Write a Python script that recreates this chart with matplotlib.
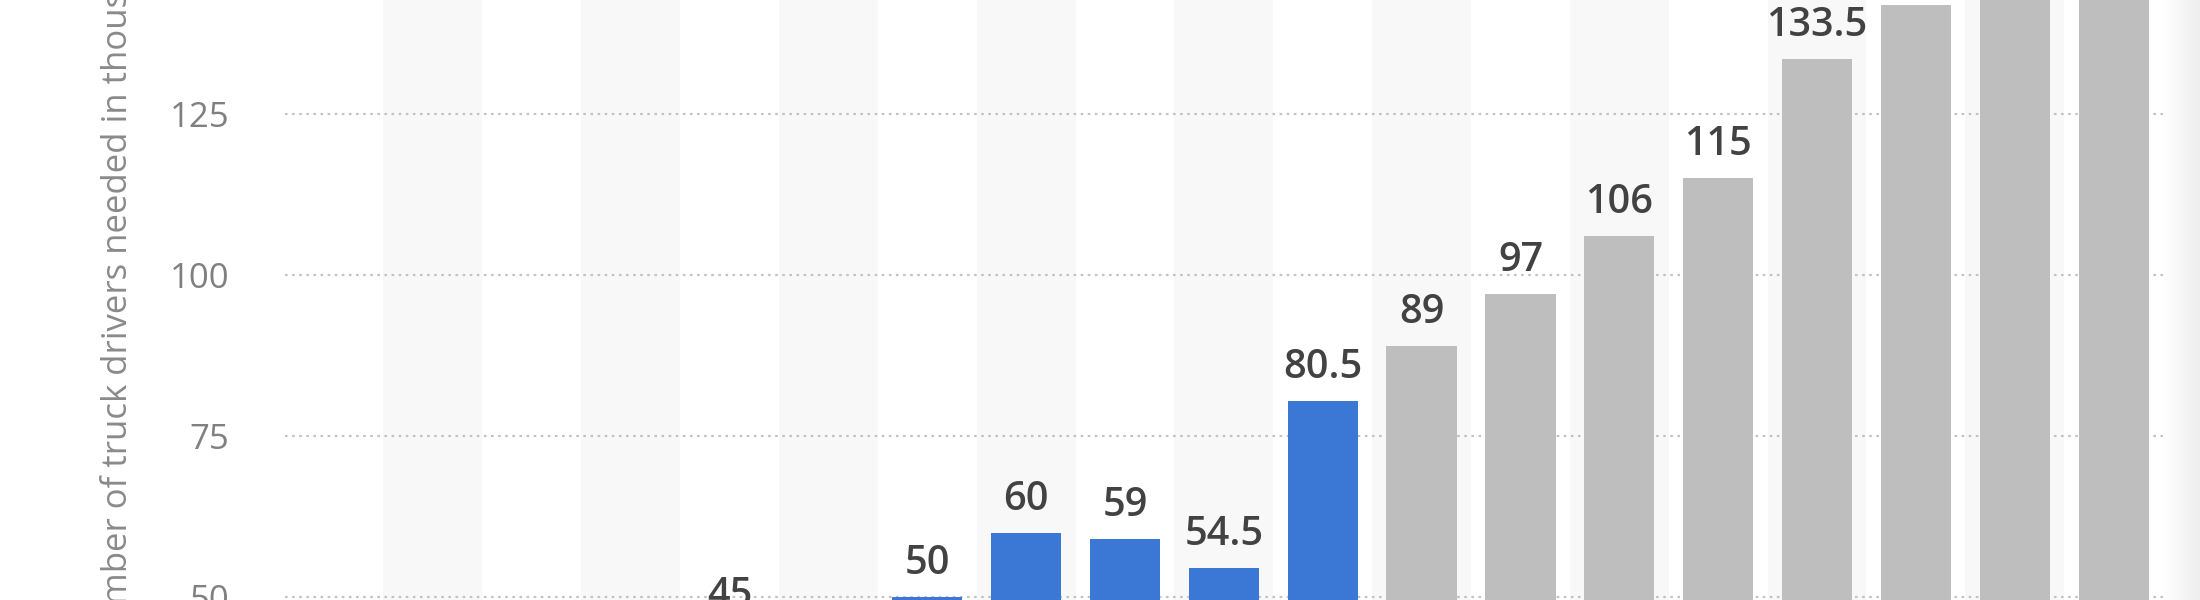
import numpy as np
import matplotlib
matplotlib.use("Agg")
import matplotlib.pyplot as plt
from matplotlib.colors import LinearSegmentedColormap

plt.rcParams['font.family'] = ['Open Sans', 'DejaVu Sans']

# Truck driver shortage (thousands), actual values then projections
years = [str(y) for y in range(2011, 2030)]
drivers_needed = [20, 25, 30, 38, 45, 36.5, 50, 60, 59, 54.5, 80.5,
                  89, 97, 106, 115, 133.5, 142, 151, 160]
n_actual = 11
y_ticks = [50, 75, 100, 125, 150]

blue = '#3b77d4'
grey = '#bebebe'

fig = plt.figure(figsize=(22, 6), dpi=100)
fig.patch.set_facecolor('white')

# the visible part is a crop of the plot, so the axes fill the whole height
ax = fig.add_axes([284.6 / 2200, 0, 1878.5 / 2200, 1])

# alternating column bands
for i in range(len(years)):
    if i % 2 == 1:
        ax.axvspan(i - 0.5, i + 0.5, color='#f8f8f8', zorder=0, lw=0)

x = np.arange(len(years))
colors = [blue if i < n_actual else grey for i in range(len(years))]
ax.bar(x, drivers_needed, width=0.71, color=colors, zorder=2)

for i, v in enumerate(drivers_needed):
    ax.annotate(f"{v:g}", (i, v), xytext=(0, 16.5), textcoords='offset points',
                ha='center', va='baseline', fontsize=28.5, fontweight='semibold',
                color='#424242', annotation_clip=False, zorder=3)

ax.set_yticks(y_ticks)
ax.set_axisbelow(True)
ax.yaxis.grid(True, color='#c2c2c2', linestyle=(0, (1.2, 2.1)), linewidth=1.55)
ax.tick_params(axis='y', length=0, pad=40, labelsize=25, labelcolor='#808080')
# year labels sit below the visible crop
ax.set_xticks(x)
ax.set_xticklabels(years)
ax.tick_params(axis='x', length=0, labelsize=22, labelcolor='#808080')
for s in ax.spines.values():
    s.set_visible(False)
ax.set_facecolor('none')

# limits last, set_yticks would widen them
ax.set_xlim(-0.5, len(years) - 0.5)
ax.set_ylim(49.53, 142.7)

fig.text(118 / 2200, 0.53, "Number of truck drivers needed in thousands",
         rotation=90, ha='center', va='center', fontsize=25, color='#8a8a8a')

# faint shadow of the card at the right edge
gax = fig.add_axes([2163 / 2200, 0, 37 / 2200, 1])
cmap = LinearSegmentedColormap.from_list('edge', ['#ffffff', '#eeeeee'])
gax.imshow(np.linspace(0, 1, 64)[None, :], aspect='auto', cmap=cmap)
gax.axis('off')

fig.savefig('out.png', dpi=100, facecolor='white')
